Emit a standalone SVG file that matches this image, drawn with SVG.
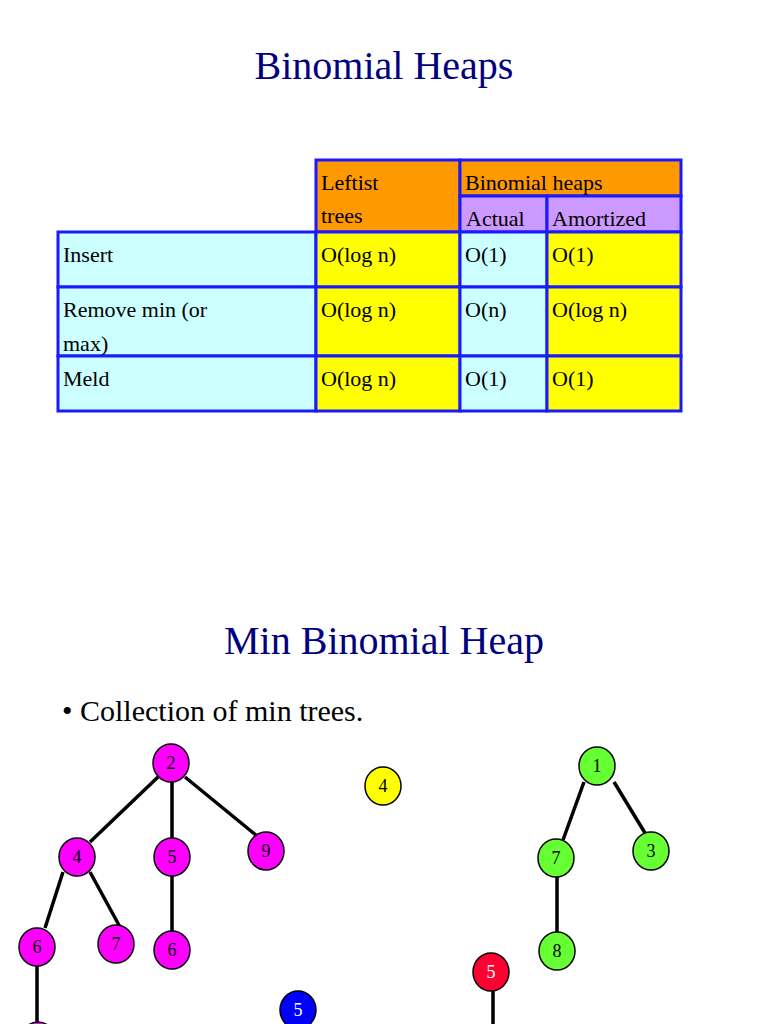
<svg xmlns="http://www.w3.org/2000/svg" width="768" height="1024" viewBox="0 0 768 1024">
<style>
.t{font-family:"Liberation Serif",serif;fill:#000;font-size:22px}
.h{font-family:"Liberation Serif",serif;fill:#000080;font-size:40px;text-anchor:middle}
.c{stroke:#1a1aff;stroke-width:3}
.n{stroke:#000;stroke-width:1.5}
.nt{font-family:"Liberation Serif",serif;font-size:18px;text-anchor:middle}
.e{stroke:#000;stroke-width:3.5}
</style>
<rect width="768" height="1024" fill="#fff"/>
<text class="h" x="384" y="79">Binomial Heaps</text>
<g id="table">
<rect class="c" x="316" y="160" width="144" height="72" fill="#ff9900"/>
<rect class="c" x="460" y="160" width="221" height="36" fill="#ff9900"/>
<rect class="c" x="460" y="196" width="87" height="36" fill="#cc99ff"/>
<rect class="c" x="547" y="196" width="134" height="36" fill="#cc99ff"/>
<rect class="c" x="58" y="232" width="258" height="55" fill="#ccffff"/>
<rect class="c" x="316" y="232" width="144" height="55" fill="#ffff00"/>
<rect class="c" x="460" y="232" width="87" height="55" fill="#ccffff"/>
<rect class="c" x="547" y="232" width="134" height="55" fill="#ffff00"/>
<rect class="c" x="58" y="287" width="258" height="69" fill="#ccffff"/>
<rect class="c" x="316" y="287" width="144" height="69" fill="#ffff00"/>
<rect class="c" x="460" y="287" width="87" height="69" fill="#ccffff"/>
<rect class="c" x="547" y="287" width="134" height="69" fill="#ffff00"/>
<rect class="c" x="58" y="356" width="258" height="55" fill="#ccffff"/>
<rect class="c" x="316" y="356" width="144" height="55" fill="#ffff00"/>
<rect class="c" x="460" y="356" width="87" height="55" fill="#ccffff"/>
<rect class="c" x="547" y="356" width="134" height="55" fill="#ffff00"/>
<text class="t" x="321" y="190">Leftist</text>
<text class="t" x="321" y="223">trees</text>
<text class="t" x="465" y="190">Binomial heaps</text>
<text class="t" x="466" y="226">Actual</text>
<text class="t" x="552" y="226">Amortized</text>
<text class="t" x="63" y="262">Insert</text>
<text class="t" x="321" y="262">O(log n)</text>
<text class="t" x="465" y="262">O(1)</text>
<text class="t" x="552" y="262">O(1)</text>
<text class="t" x="63" y="317">Remove min (or</text>
<text class="t" x="63" y="351">max)</text>
<text class="t" x="321" y="317">O(log n)</text>
<text class="t" x="465" y="317">O(n)</text>
<text class="t" x="552" y="317">O(log n)</text>
<text class="t" x="63" y="386">Meld</text>
<text class="t" x="321" y="386">O(log n)</text>
<text class="t" x="465" y="386">O(1)</text>
<text class="t" x="552" y="386">O(1)</text>
</g>
<text class="h" x="384" y="654">Min Binomial Heap</text>
<text class="t" style="font-size:30px" x="62" y="721">• Collection of min trees.</text>
<g id="edges">
<line class="e" x1="158" y1="777" x2="90" y2="842"/>
<line class="e" x1="172" y1="782" x2="172" y2="838"/>
<line class="e" x1="185" y1="777" x2="257" y2="836"/>
<line class="e" x1="63" y1="872" x2="45" y2="928"/>
<line class="e" x1="90" y1="872" x2="120" y2="927"/>
<line class="e" x1="172" y1="876" x2="172" y2="932"/>
<line class="e" x1="37" y1="966" x2="37" y2="1024"/>
<line class="e" x1="584" y1="782" x2="563" y2="840"/>
<line class="e" x1="614" y1="782" x2="645" y2="833"/>
<line class="e" x1="557" y1="877" x2="557" y2="932"/>
<line class="e" x1="493" y1="991" x2="493" y2="1024"/>
</g>
<g id="n2"><ellipse class="n" cx="171" cy="763" rx="18" ry="19" fill="#ff00ff"/><text class="nt" x="171" y="769">2</text></g>
<g id="n4a"><ellipse class="n" cx="77" cy="857" rx="18" ry="19" fill="#ff00ff"/><text class="nt" x="77" y="863">4</text></g>
<g id="n5a"><ellipse class="n" cx="172" cy="857" rx="18" ry="19" fill="#ff00ff"/><text class="nt" x="172" y="863">5</text></g>
<g id="n9"><ellipse class="n" cx="266" cy="851" rx="18" ry="19" fill="#ff00ff"/><text class="nt" x="266" y="857">9</text></g>
<g id="n6a"><ellipse class="n" cx="37" cy="947" rx="18" ry="19" fill="#ff00ff"/><text class="nt" x="37" y="953">6</text></g>
<g id="n7a"><ellipse class="n" cx="116" cy="944" rx="18" ry="19" fill="#ff00ff"/><text class="nt" x="116" y="950">7</text></g>
<g id="n6b"><ellipse class="n" cx="172" cy="950" rx="18" ry="19" fill="#ff00ff"/><text class="nt" x="172" y="956">6</text></g>
<g id="nbot"><ellipse class="n" cx="38" cy="1041" rx="18" ry="19" fill="#ff00ff"/></g>
<g id="n4y"><ellipse class="n" cx="383" cy="786" rx="18" ry="19" fill="#ffff00"/><text class="nt" x="383" y="792">4</text></g>
<g id="n1"><ellipse class="n" cx="597" cy="766" rx="18" ry="19" fill="#66ff33"/><text class="nt" x="597" y="772">1</text></g>
<g id="n7g"><ellipse class="n" cx="556" cy="858" rx="18" ry="19" fill="#66ff33"/><text class="nt" x="556" y="864">7</text></g>
<g id="n3"><ellipse class="n" cx="651" cy="851" rx="18" ry="19" fill="#66ff33"/><text class="nt" x="651" y="857">3</text></g>
<g id="n8"><ellipse class="n" cx="557" cy="951" rx="18" ry="19" fill="#66ff33"/><text class="nt" x="557" y="957">8</text></g>
<g id="n5r"><ellipse class="n" cx="491" cy="972" rx="18" ry="19" fill="#ff0033"/><text class="nt" x="491" y="978" fill="#fff">5</text></g>
<g id="n5b"><ellipse class="n" cx="298" cy="1010" rx="18" ry="19" fill="#0000ff"/><text class="nt" x="298" y="1016" fill="#fff">5</text></g>
</svg>
